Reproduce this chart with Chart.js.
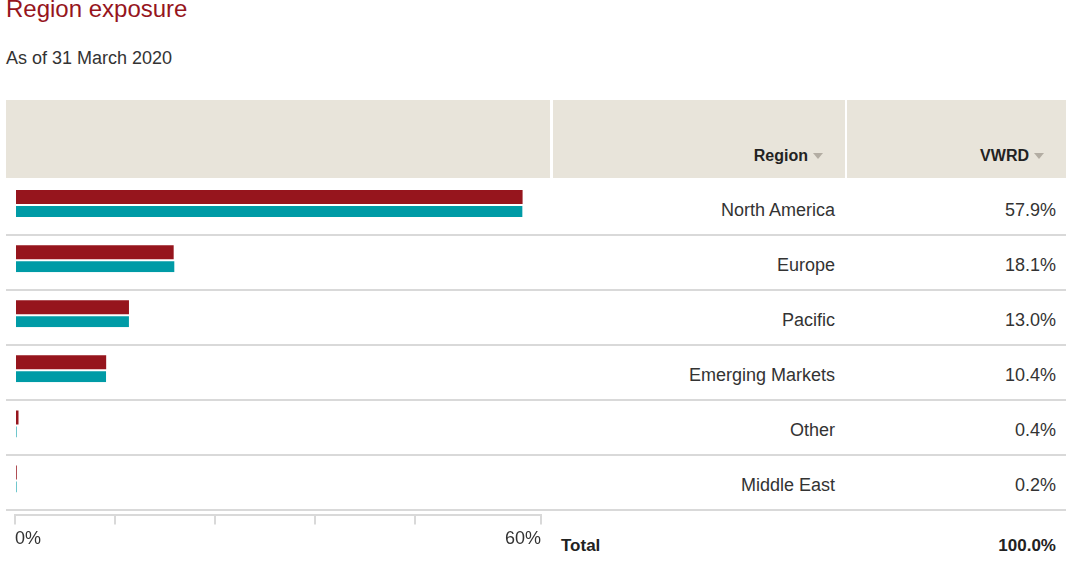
<!DOCTYPE html>
<html lang="en">
<head>
    <meta charset="UTF-8">
    <title>Region exposure</title>
    <style>
        body {
            margin: 0;
            font-family: Arial, "Liberation Sans", sans-serif;
            color: #333;
            background: #fff;
        }
        #title {
            position: absolute;
            left: 6px;
            top: -5px;
            font-size: 24px;
            color: #96151d;
        }
        #asof {
            position: absolute;
            left: 6px;
            top: 48px;
            font-size: 18px;
        }
        #table {
            position: absolute;
            left: 6px;
            top: 100px;
            width: 1060px;
        }
        .head {
            display: flex;
            height: 78px;
            margin-bottom: 3px;
        }
        .head div {
            background: #e8e4da;
            box-sizing: border-box;
            display: flex;
            align-items: flex-end;
            justify-content: flex-end;
            padding: 0 22px 13px 0;
            font-size: 16px;
            font-weight: bold;
            color: #222;
        }
        .head .c0 { width: 544px; }
        .head .c1 { width: 292px; margin-left: 3px; }
        .head .c2 { width: 219px; margin-left: 2px; }
        .sort {
            display: inline-block;
            width: 0;
            height: 0;
            border-left: 5px solid transparent;
            border-right: 5px solid transparent;
            border-top: 6px solid #b3ada3;
            margin: 0 0 6px 5px;
        }
        .row {
            display: flex;
            height: 53px;
            border-bottom: 2px solid #d9d9d9;
            font-size: 18px;
        }
        .row div, .total div {
            box-sizing: border-box;
            display: flex;
            align-items: center;
            justify-content: flex-end;
            padding: 5px 10px 0 0;
        }
        .c0 { width: 544px; }
        .c1 { width: 295px; }
        .c2 { width: 221px; }
        .total {
            display: flex;
            height: 50px;
            font-size: 17px;
            font-weight: bold;
            color: #222;
        }
        .total div {
            align-items: flex-start;
            padding-top: 25px;
        }
        .total .c1 {
            justify-content: flex-start;
            padding-left: 11px;
        }
        #chartBox {
            position: absolute;
            left: 0;
            top: 170px;
            width: 550px;
            height: 384px;
        }
    </style>
    <script src="https://cdn.jsdelivr.net/npm/chart.js"></script>
</head>
<body>
    <div id="title">Region exposure</div>
    <div id="asof">As of 31 March 2020</div>

    <div id="table">
        <div class="head">
            <div class="c0"></div>
            <div class="c1">Region<span class="sort"></span></div>
            <div class="c2">VWRD<span class="sort"></span></div>
        </div>
        <div id="rows"></div>
        <div class="total">
            <div class="c0"></div>
            <div class="c1">Total</div>
            <div class="c2" id="totalCell"></div>
        </div>
    </div>

    <div id="chartBox"><canvas id="chart"></canvas></div>

    <script>
        const regions = ['North America', 'Europe', 'Pacific', 'Emerging Markets', 'Other', 'Middle East'];
        const fundValues = [57.9, 18.1, 13.0, 10.4, 0.4, 0.2];
        const benchmarkValues = [57.9, 18.2, 13.0, 10.4, 0.2, 0.2];
        const axisTicks = [0, 11.4, 22.8, 34.2, 45.6, 60];
        const axisTickLabels = ['0%', '', '', '', '', '60%'];

        // table rows
        const rowsEl = document.getElementById('rows');
        regions.forEach((name, i) => {
            const row = document.createElement('div');
            row.className = 'row';
            row.innerHTML = '<div class="c0"></div><div class="c1"></div><div class="c2"></div>';
            row.children[1].textContent = name;
            row.children[2].textContent = fundValues[i].toFixed(1) + '%';
            rowsEl.appendChild(row);
        });
        const total = fundValues.reduce((a, b) => a + b, 0);
        document.getElementById('totalCell').textContent = total.toFixed(1) + '%';

        // bars
        const ctx = document.getElementById('chart').getContext('2d');
        new Chart(ctx, {
            type: 'bar',
            data: {
                datasets: [{
                    label: 'VWRD',
                    data: fundValues.map((v, i) => ({ x: v, y: i })),
                    backgroundColor: '#96151d',
                    barThickness: 14,
                    borderWidth: 0,
                    inflateAmount: 0
                }, {
                    label: 'Benchmark',
                    data: benchmarkValues.map((v, i) => ({ x: v, y: i })),
                    backgroundColor: '#009ba6',
                    borderColor: '#ffffff',
                    borderWidth: { top: 2, right: 0, bottom: 0, left: 0 },
                    barThickness: 13,
                    inflateAmount: 0
                }]
            },
            options: {
                indexAxis: 'y',
                responsive: true,
                maintainAspectRatio: false,
                animation: false,
                layout: { padding: { left: 15, right: 9, top: 6.5, bottom: 0 } },
                plugins: {
                    legend: { display: false },
                    tooltip: { enabled: false }
                },
                scales: {
                    y: {
                        type: 'linear',
                        reverse: true,
                        offset: false,
                        min: -0.5,
                        max: 5.65,
                        display: false
                    },
                    x: {
                        type: 'linear',
                        min: 0,
                        max: 60,
                        afterBuildTicks: scale => {
                            scale.ticks = axisTicks.map(v => ({ value: v }));
                        },
                        grid: {
                            drawOnChartArea: false,
                            drawTicks: true,
                            tickLength: 9,
                            color: '#d9d9d9',
                            lineWidth: 2
                        },
                        border: { display: true, color: '#d9d9d9', width: 2 },
                        ticks: {
                            align: 'inner',
                            padding: 4,
                            autoSkip: false,
                            maxRotation: 0,
                            color: '#333',
                            font: { family: 'Arial, "Liberation Sans", sans-serif', size: 18 },
                            callback: (value, index) => axisTickLabels[index]
                        }
                    }
                }
            }
        });
    </script>
</body>
</html>
